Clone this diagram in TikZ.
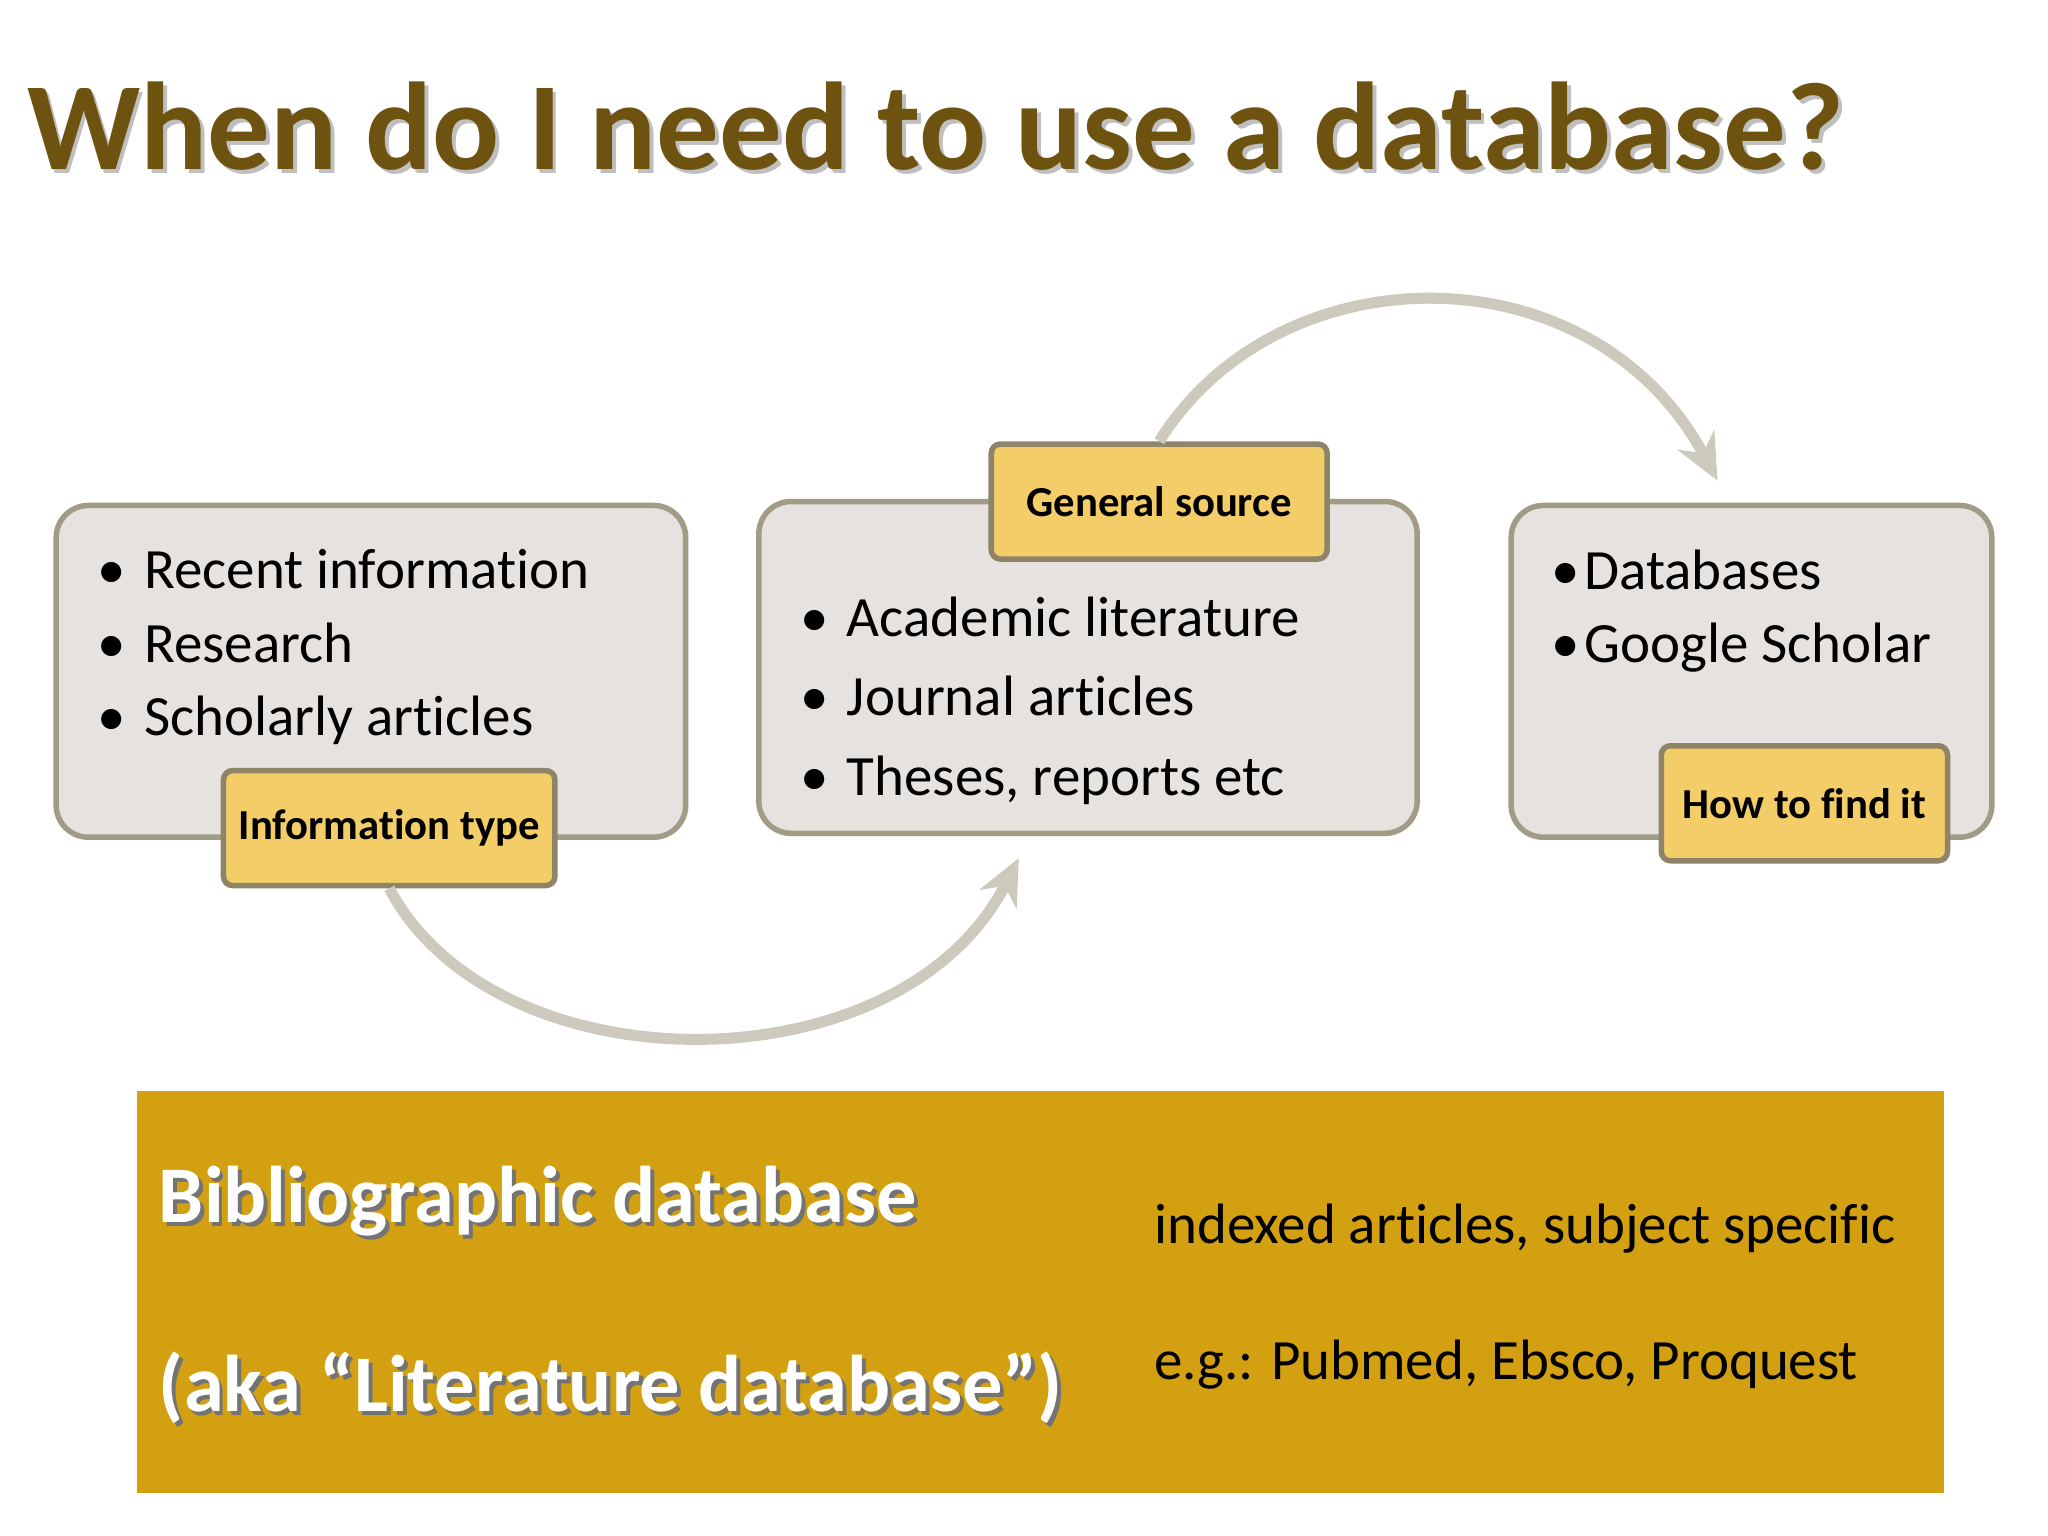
\documentclass[tikz,border=0pt]{standalone}
\usepackage{fontspec}
\setmainfont{Carlito}[RawFeature={-liga}]
\usetikzlibrary{arrows.meta}
\definecolor{boxfill}{HTML}{E6E2DF}
\definecolor{boxline}{HTML}{A29C86}
\definecolor{labfill}{HTML}{F3CD68}
\definecolor{labline}{HTML}{8E8468}
\definecolor{arcc}{HTML}{CDC9BD}
\definecolor{gold}{HTML}{D3A012}
\definecolor{titlec}{HTML}{6E5210}
\tikzset{
 panel/.style={draw=boxline,line width=1.2pt,fill=boxfill,rounded corners=7pt},
 tag/.style={draw=labline,line width=1.2pt,fill=labfill,rounded corners=2pt,font=\fontsize{9.3}{11}\selectfont\bfseries},
 arc/.style={draw=arcc,line width=2.4pt,-{Stealth[length=10pt,width=9pt]}},
 blist/.style={anchor=north west,align=left,font=\fontsize{12.4}{16}\selectfont,inner sep=0pt}
}
\begin{document}
\begin{tikzpicture}[x=0.01cm,y=-0.01cm]
\useasboundingbox[fill=white] (0,0) rectangle (1568,1176);
\node[inner sep=0pt,anchor=base west,text=black!25,font=\fontsize{27.2}{30}\selectfont\bfseries] (tsh) at (23,133) {When do I need to use a database?};
\node[inner sep=0pt,anchor=base west,text=titlec,font=\fontsize{27.2}{30}\selectfont\bfseries] (title) at (20,130) {When do I need to use a database?};
% arcs
\coordinate (a1e) at (780,657);
\coordinate (a2e) at (1315,368);
% panels
\path[panel] (43,387) rectangle (525,641);
\path[panel] (581,384) rectangle (1085,638);
\path[panel] (1157,387) rectangle (1525,641);
\node[blist] (l1) at (74,420) {\textbullet\hspace{4pt}Recent information\\[0pt]\textbullet\hspace{4pt}Research\\[0pt]\textbullet\hspace{4pt}Scholarly articles};
\node[blist,font=\fontsize{12.4}{17.4}\selectfont] (l2) at (612,456) {\textbullet\hspace{4pt}Academic literature\\[0pt]\textbullet\hspace{4pt}Journal articles\\[0pt]\textbullet\hspace{4pt}Theses, reports etc};
\node[blist] (l3) at (1187,420) {\textbullet\hspace{1pt}Databases\\[0pt]\textbullet\hspace{1pt}Google Scholar};
% tags
\node[tag,minimum width=2.52cm,minimum height=0.88cm] (t1) at (298,634) {Information type};
\node[tag,minimum width=2.57cm,minimum height=0.88cm] (t2) at (887.5,384) {General source};
\node[tag,minimum width=2.19cm,minimum height=0.88cm] (t3) at (1381.5,615) {How to find it};
\draw[arc] (t1.south) .. controls (380,835) and (690,835) .. (a1e);
\draw[arc] (t2.north) .. controls (980,190) and (1220,190) .. (a2e);
% bottom band
\fill[gold] (105,835) rectangle (1488,1143);
\node[inner sep=0pt,anchor=base west,text=black!55,font=\fontsize{17.5}{20}\selectfont\bfseries] (bs1) at (124,939) {Bibliographic database};
\node[inner sep=0pt,anchor=base west,text=white,font=\fontsize{17.5}{20}\selectfont\bfseries] (b1) at (121,936) {Bibliographic database};
\node[inner sep=0pt,anchor=base west,text=black!55,font=\fontsize{17.5}{20}\selectfont\bfseries] (bs2) at (124,1084) {(aka “Literature database”)};
\node[inner sep=0pt,anchor=base west,text=white,font=\fontsize{17.5}{20}\selectfont\bfseries] (b2) at (121,1081) {(aka “Literature database”)};
\node[inner sep=0pt,anchor=base west,font=\fontsize{12.4}{16}\selectfont] (r1) at (883,952) {indexed articles, subject specific};
\node[inner sep=0pt,anchor=base west,font=\fontsize{12.4}{16}\selectfont] (r2) at (883,1056) {e.g.: Pubmed, Ebsco, Proquest};
\end{tikzpicture}
\end{document}
